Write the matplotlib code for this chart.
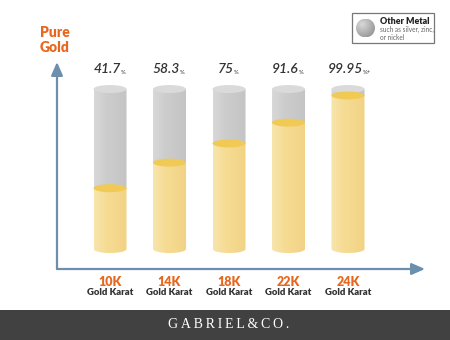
import numpy as np
import matplotlib
matplotlib.use("Agg")
import matplotlib.pyplot as plt
from matplotlib.patches import Rectangle, Ellipse, Circle
from matplotlib.path import Path
import matplotlib.patches as mpatches

# ---- data ----
karats = ["10K", "14K", "18K", "22K", "24K"]
purity_labels = ["41.7", "58.3", "75", "91.6", "99.95"]
purity_suffix = ["%", "%", "%", "%", "%+"]
fill_level = [38, 54, 66, 79, 96]   # gold fill height (percent of cylinder) as drawn in the picture
sub_label = "Gold Karat"

ORANGE = "#e8671f"
DARK = "#333333"
AXIS_BLUE = "#6b8fad"

fig = plt.figure(figsize=(4.5, 3.4), dpi=100)
ax = fig.add_axes([57/450, 1-269/340, (425-57)/450, (269-62)/340])
x = np.arange(len(karats))
ax.set_xlim(-0.891, 5.294)
ax.set_ylim(-12.5, 116.9)
ax.axis("off")

W = 0.555      # cylinder width (category units)
EH = 5.0       # ellipse height (data units)

def hgrad(c_left, c_mid, c_right, n=64):
    t = np.linspace(0, 1, n)
    cl, cm, cr = [np.array(matplotlib.colors.to_rgb(c)) for c in (c_left, c_mid, c_right)]
    out = np.zeros((1, n, 3))
    for i, v in enumerate(t):
        if v < 0.35:
            out[0, i] = cl + (cm - cl) * (v / 0.35)
        else:
            out[0, i] = cm + (cr - cm) * ((v - 0.35) / 0.65)
    return out

gray_grad = hgrad("#d8d8d8", "#cdcdcd", "#c4c4c4")
gold_grad = hgrad("#f8e5ad", "#f6dc94", "#f2d385")

def body_path(xc, y0, y1):
    l, r = xc - W/2, xc + W/2
    verts = [(l, y1), (l, y0)]
    th2 = np.linspace(np.pi, 2*np.pi, 40)
    verts += list(zip(xc + (W/2)*np.cos(th2), y0 + (EH/2)*np.sin(th2)))
    verts += [(r, y1), (l, y1)]
    codes = [Path.MOVETO] + [Path.LINETO]*(len(verts)-2) + [Path.CLOSEPOLY]
    return Path(verts, codes)

for i, xc in enumerate(x):
    lvl = fill_level[i]
    gp = mpatches.PathPatch(body_path(xc, lvl, 100), facecolor="none", edgecolor="none")
    ax.add_patch(gp)
    im = ax.imshow(gray_grad, extent=(xc-W/2, xc+W/2, lvl-EH, 100), aspect="auto",
                   zorder=1, interpolation="bilinear")
    im.set_clip_path(gp)
    ax.add_patch(Ellipse((xc, 100), W, EH, facecolor="#dadada", edgecolor="none", zorder=2))
    pp = mpatches.PathPatch(body_path(xc, 0, lvl), facecolor="none", edgecolor="none")
    ax.add_patch(pp)
    im2 = ax.imshow(gold_grad, extent=(xc-W/2, xc+W/2, -EH, lvl), aspect="auto",
                    zorder=3, interpolation="bilinear")
    im2.set_clip_path(pp)
    ax.add_patch(Ellipse((xc, lvl), W, EH, facecolor="#f0ca55", edgecolor="none", zorder=4))

    # purity label
    t = ax.text(xc - 0.05, 110, purity_labels[i], ha="center", va="baseline",
                fontsize=10, style="italic", fontweight="semibold", color=DARK, family="Lato")
    ax.annotate(purity_suffix[i], xy=(1, 0), xycoords=t, xytext=(-0.3, 0),
                textcoords="offset points", fontsize=4.2, color=DARK, va="bottom", ha="left",
                family="Lato")

    # karat labels
    ax.text(xc, -20.6, karats[i], ha="center", va="center", fontsize=9,
            fontweight="heavy", color=ORANGE, family="Lato", clip_on=False)
    ax.text(xc, -26.9, sub_label, ha="center", va="center", fontsize=6.8,
            fontweight="heavy", color=DARK, family="Lato", clip_on=False)

# axes arrows
x0, x1 = ax.get_xlim()
y0, y1 = ax.get_ylim()
ax.annotate("", xy=(x0, y1), xytext=(x0, y0),
            arrowprops=dict(arrowstyle="-|>,head_length=0.8,head_width=0.35",
                            color=AXIS_BLUE, lw=1.6, shrinkA=0, shrinkB=0),
            annotation_clip=False)
ax.annotate("", xy=(x1, y0), xytext=(x0, y0),
            arrowprops=dict(arrowstyle="-|>,head_length=0.8,head_width=0.35",
                            color=AXIS_BLUE, lw=1.6, shrinkA=0, shrinkB=0),
            annotation_clip=False)

# axis title
fig.text(55/450, 1-40/340, "Pure\nGold", ha="center", va="center", fontsize=10,
         fontweight="heavy", color=ORANGE, family="Lato", linespacing=1.1)

# legend box
fig.patches.append(Rectangle((352/450, 1-43/340), (434-352)/450, 30/340,
                             transform=fig.transFigure, facecolor="white",
                             edgecolor="#777777", lw=0.9, zorder=0))
circ_ax = fig.add_axes([356/450, 1-37.5/340, 19/450, 19/340])
circ_ax.set_zorder(5)
circ_ax.axis("off")
circ_ax.set_xlim(-1, 1); circ_ax.set_ylim(-1, 1)
yy, xx = np.mgrid[-1:1:60j, -1:1:60j]
shade = 0.60 + 0.25 * np.clip(1 - np.hypot(xx + 0.35, yy - 0.35) / 1.5, 0, 1)
cimg = circ_ax.imshow(np.dstack([shade]*3), extent=(-1, 1, -1, 1), origin="lower")
cp = Circle((0, 0), 1, transform=circ_ax.transData, facecolor="none", edgecolor="none")
circ_ax.add_patch(cp)
cimg.set_clip_path(cp)
fig.text(380/450, 1-21.5/340, "Other Metal", ha="left", va="center", fontsize=6.4,
         fontweight="heavy", color="#222222", family="Lato")
fig.text(380/450, 1-33.5/340, "such as silver, zinc,\nor nickel", ha="left", va="center",
         fontsize=4.7, color="#666666", family="Lato", linespacing=1.05)

# footer
fig.patches.append(Rectangle((0, 0), 1, 30/340, transform=fig.transFigure,
                             facecolor="#414141", edgecolor="none"))
fig.text(229/450, 15/340, "\u2009".join("GABRIEL") + "\u2009&\u2009" + "\u2009".join("CO."),
         ha="center", va="center", fontsize=10, color="white", family="Liberation Serif")

fig.savefig("out.png", dpi=100)
